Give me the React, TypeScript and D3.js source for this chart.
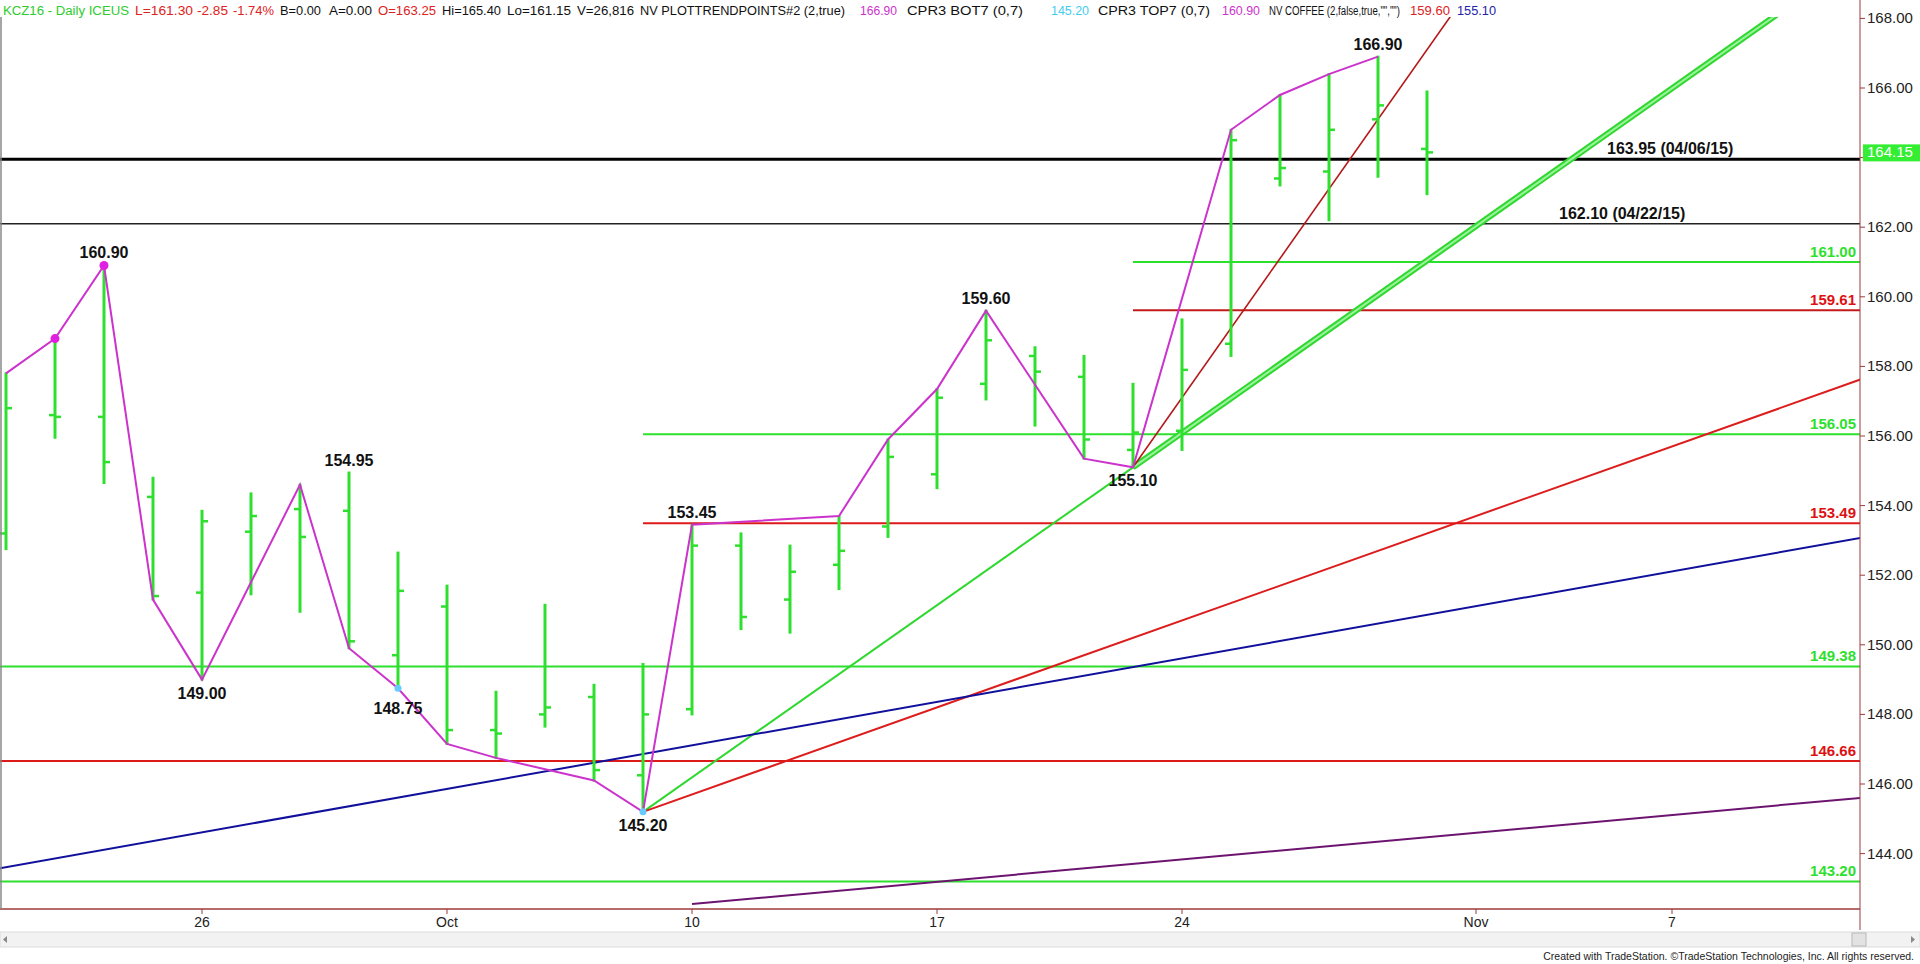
import React from 'react';
import * as d3 from 'd3';

// daily OHLC bars, KCZ16 (Sep 20 - Oct 31)
const barDates = [
  'Sep 20', 'Sep 21', 'Sep 22', 'Sep 23', 'Sep 26', 'Sep 27', 'Sep 28', 'Sep 29', 'Sep 30',
  'Oct 3', 'Oct 4', 'Oct 5', 'Oct 6', 'Oct 7', 'Oct 10', 'Oct 11', 'Oct 12', 'Oct 13', 'Oct 14',
  'Oct 17', 'Oct 18', 'Oct 19', 'Oct 20', 'Oct 21', 'Oct 24', 'Oct 25', 'Oct 26', 'Oct 27', 'Oct 28', 'Oct 31',
];
const opens = [
  153.2, 156.6, 156.55, 154.25, 151.5, 153.25, 153.9, 153.85, 149.7,
  151.1, 147.55, 148.0, 148.5, 146.25, 148.15, 152.85, 151.3, 152.3, 153.4,
  154.9, 157.5, 158.3, 157.7, 155.6, 156.15, 158.65, 163.4, 163.6, 165.1, 164.25,
];
const highs = [
  157.8, 158.8, 160.9, 154.8, 153.85, 154.35, 154.6, 154.95, 152.65,
  151.7, 148.65, 151.15, 148.85, 149.45, 153.45, 153.2, 152.85, 153.7, 155.9,
  157.35, 159.6, 158.55, 158.3, 157.5, 159.35, 164.8, 165.8, 166.4, 166.9, 165.9,
];
const lows = [
  152.75, 155.95, 154.65, 151.3, 149.0, 151.45, 150.95, 149.9, 148.75,
  147.15, 146.75, 147.65, 146.1, 145.2, 148.0, 150.45, 150.35, 151.6, 153.1,
  154.5, 157.05, 156.3, 155.35, 155.1, 155.6, 158.3, 163.2, 162.2, 163.45, 162.95,
];
const closes = [
  156.8, 156.55, 155.25, 151.4, 153.55, 153.7, 153.1, 150.1, 151.55,
  147.55, 147.45, 148.2, 146.4, 148.0, 152.85, 150.8, 152.1, 152.7, 155.4,
  157.1, 158.75, 157.85, 155.9, 156.1, 157.9, 164.5, 163.7, 164.8, 165.5, 164.15,
];
const lastPrice = 164.15;

// x-axis labels (trading-day index)
const dateTickIdx = [4, 9, 14, 19, 24, 30, 34];
const dateTickLabels = ['26', 'Oct', '10', '17', '24', 'Nov', '7'];

// price axis
const priceTicks = [144, 146, 148, 150, 152, 154, 156, 158, 160, 162, 164, 166, 168];

// horizontal levels
const levelValues = [163.95, 162.1, 161.0, 159.61, 156.05, 153.49, 149.38, 146.66, 143.2];
const levelStartIdx = [-1, -1, 23, 23, 13, 13, -1, -1, -1];
const levelLabels = ['163.95 (04/06/15)', '162.10 (04/22/15)', '161.00', '159.61', '156.05', '153.49', '149.38', '146.66', '143.20'];

// zigzag (trend points) path
const zigIdx = [0, 1, 2, 3, 4, 6, 7, 8, 9, 10, 12, 13, 14, 17, 18, 19, 20, 22, 23, 25, 26, 27, 28];
const zigVal = [157.8, 158.8, 160.9, 151.3, 149.0, 154.6, 149.9, 148.75, 147.15, 146.75, 146.1, 145.2, 153.45, 153.7, 155.9, 157.35, 159.6, 155.35, 155.1, 164.8, 165.8, 166.4, 166.9];

// swing labels
const swingIdx = [2, 4, 7, 8, 13, 14, 20, 23, 28];
const swingVal = [160.9, 149.0, 154.95, 148.75, 145.2, 153.45, 159.6, 155.1, 166.9];
const swingSide = ['above', 'below', 'above', 'below', 'below', 'above', 'above', 'below', 'above'];

// dots
const topDotIdx = [1, 2];
const topDotVal = [158.8, 160.9];
const botDotIdx = [8, 13];
const botDotVal = [148.75, 145.2];

// trend lines: start point, slope per bar, end index
const trendStartIdx = [13, 23, 23, 13, -0.2, 14];
const trendStartVal = [145.2, 155.1, 155.1, 145.2, 143.56, 142.55];
const trendSlope = [0.99, 0.99, 2.0, 0.5, 0.25, 0.128];
const trendEndIdx = [23, 40, 40, 40, 40, 40];
const trendStyles = [
  { stroke: '#2fd82f', width: 2 },
  { stroke: '#2fd82f', width: 6, inner: '#9cf29c' },
  { stroke: '#b41818', width: 1.6 },
  { stroke: '#dd1c1c', width: 2 },
  { stroke: '#10109c', width: 2 },
  { stroke: '#6c1470', width: 2 },
];

const header = [
  { t: 'KCZ16 - Daily  ICEUS', c: '#2ecc2e', x: 3, w: 126 },
  { t: 'L=161.30', c: '#dd2222', x: 135, w: 58 },
  { t: '-2.85', c: '#dd2222', x: 197, w: 31 },
  { t: '-1.74%', c: '#dd2222', x: 233, w: 41 },
  { t: 'B=0.00', c: '#111', x: 280, w: 41 },
  { t: 'A=0.00', c: '#111', x: 329, w: 43 },
  { t: 'O=163.25', c: '#dd2222', x: 378, w: 58 },
  { t: 'Hi=165.40', c: '#111', x: 442, w: 59 },
  { t: 'Lo=161.15', c: '#111', x: 507, w: 64 },
  { t: 'V=26,816', c: '#111', x: 577, w: 57 },
  { t: 'NV PLOTTRENDPOINTS#2 (2,true)', c: '#111', x: 640, w: 205 },
  { t: '166.90', c: '#cc33cc', x: 860, w: 37 },
  { t: 'CPR3 BOT7 (0,7)', c: '#111', x: 907, w: 116 },
  { t: '145.20', c: '#44ccee', x: 1051, w: 38 },
  { t: 'CPR3 TOP7 (0,7)', c: '#111', x: 1098, w: 112 },
  { t: '160.90', c: '#cc33cc', x: 1222, w: 38 },
  { t: 'NV COFFEE (2,false,true,"","")', c: '#111', x: 1269, w: 131 },
  { t: '159.60', c: '#dd2222', x: 1410, w: 40 },
  { t: '155.10', c: '#2222aa', x: 1457, w: 39 },
];

const W = 1920;
const H = 964;
const plotRight = 1860;
const plotTop = 17;
const plotBottom = 909;
const FONT = 'Liberation Sans, Arial, sans-serif';
const GREEN = '#2ee02e';
const AXIS = '#9c3a3a';

const levelStyles = [
  { stroke: '#000', width: 3, color: '#111' },
  { stroke: '#222', width: 1.5, color: '#111' },
  { stroke: GREEN, width: 2, color: GREEN },
  { stroke: '#c41a1a', width: 2, color: '#dd1111' },
  { stroke: GREEN, width: 2, color: GREEN },
  { stroke: '#dd1a1a', width: 2, color: '#dd1111' },
  { stroke: GREEN, width: 2, color: GREEN },
  { stroke: '#dd1a1a', width: 2, color: '#dd1111' },
  { stroke: GREEN, width: 2, color: GREEN },
];
const blackLabelX = [1607, 1559];

export default function App() {
  const x = d3.scaleLinear().domain([0, 34]).range([6, 6 + 34 * 49]);
  const y = d3.scaleLinear().domain([144, 168]).range([853.6, 18.4]);

  const zig = d3.line<number>()
    .x((_, i) => x(zigIdx[i]))
    .y((d) => y(d));

  const tick = 6;

  return (
    <svg width={W} height={H} style={{ position: 'fixed', left: 0, top: 0, background: '#fff' }} fontFamily={FONT}>
      <defs>
        <clipPath id="plot">
          <rect x={0} y={plotTop} width={plotRight} height={plotBottom - plotTop} />
        </clipPath>
      </defs>
      <rect x={0} y={0} width={W} height={H} fill="#fff" />

      {/* header */}
      {header.map((h, i) => (
        <text key={i} x={h.x} y={15} fontSize={12} fill={h.c} textLength={h.w} lengthAdjust="spacingAndGlyphs">{h.t}</text>
      ))}

      <g clipPath="url(#plot)">
        {/* horizontal levels */}
        {levelValues.map((v, i) => (
          <line key={i} x1={levelStartIdx[i] < 0 ? 0 : x(levelStartIdx[i])} x2={plotRight} y1={y(v)} y2={y(v)}
            stroke={levelStyles[i].stroke} strokeWidth={levelStyles[i].width} />
        ))}

        {/* trend lines */}
        {trendStartIdx.map((s, i) => {
          const e = trendEndIdx[i];
          const v2 = trendStartVal[i] + trendSlope[i] * (e - s);
          const st = trendStyles[i];
          return (
            <g key={i}>
              <line x1={x(s)} y1={y(trendStartVal[i])} x2={x(e)} y2={y(v2)} stroke={st.stroke} strokeWidth={st.width} />
              {st.inner && <line x1={x(s)} y1={y(trendStartVal[i])} x2={x(e)} y2={y(v2)} stroke={st.inner} strokeWidth={2} />}
            </g>
          );
        })}

        {/* OHLC bars */}
        {barDates.map((d, i) => (
          <g key={d}>
            <line x1={x(i)} x2={x(i)} y1={y(highs[i]) - 1} y2={y(lows[i]) + 1} stroke={GREEN} strokeWidth={3} />
            <line x1={x(i) - tick} x2={x(i)} y1={y(opens[i])} y2={y(opens[i])} stroke={GREEN} strokeWidth={2.5} />
            <line x1={x(i)} x2={x(i) + tick} y1={y(closes[i])} y2={y(closes[i])} stroke={GREEN} strokeWidth={2.5} />
          </g>
        ))}

        {/* zigzag */}
        <path d={zig(zigVal) || ''} fill="none" stroke="#cc33cc" strokeWidth={2} />

        {topDotIdx.map((d, i) => (
          <circle key={'t' + i} cx={x(d)} cy={y(topDotVal[i])} r={4.5} fill="#e020e0" />
        ))}
        {botDotIdx.map((d, i) => (
          <circle key={'b' + i} cx={x(d)} cy={y(botDotVal[i])} r={3.5} fill="#66ccff" />
        ))}
      </g>

      {/* swing labels */}
      {swingIdx.map((d, i) => (
        <text key={i} x={x(d)} y={swingSide[i] === 'above' ? y(swingVal[i]) - 7 : y(swingVal[i]) + (d === 8 ? 26 : 19)}
          textAnchor="middle" fontSize={16} fontWeight="bold" fill="#111">
          {swingVal[i].toFixed(2)}
        </text>
      ))}

      {/* level labels */}
      {levelValues.map((v, i) => (
        i < 2 ? (
          <text key={i} x={blackLabelX[i]} y={y(v) - 5} fontSize={16} fontWeight="bold" fill={levelStyles[i].color}>{levelLabels[i]}</text>
        ) : (
          <text key={i} x={plotRight - 4} y={y(v) - 5} textAnchor="end" fontSize={15} fontWeight="bold" fill={levelStyles[i].color}>{levelLabels[i]}</text>
        )
      ))}

      {/* right price axis */}
      <line x1={plotRight} x2={plotRight} y1={0} y2={930} stroke={AXIS} strokeWidth={1} />
      {priceTicks.map((p) => (
        <g key={p}>
          <line x1={plotRight} x2={plotRight + 5} y1={y(p)} y2={y(p)} stroke={AXIS} />
          {Math.abs(y(p) - y(lastPrice)) > 14 && (
            <text x={plotRight + 7} y={y(p) + 5} fontSize={15} fill="#222">{p.toFixed(2)}</text>
          )}
        </g>
      ))}
      <rect x={plotRight + 3} y={y(lastPrice) - 8} width={W - plotRight - 3} height={17} fill="#33ee33" />
      <text x={plotRight + 7} y={y(lastPrice) + 5} fontSize={15} fill="#fff">{lastPrice.toFixed(2)}</text>

      {/* bottom date axis */}
      <line x1={0} x2={plotRight} y1={plotBottom} y2={plotBottom} stroke={AXIS} strokeWidth={1.5} />
      <line x1={1} x2={1} y1={plotTop} y2={plotBottom} stroke="#888" strokeWidth={1.5} />
      {dateTickIdx.map((d, i) => (
        <g key={d}>
          <line x1={x(d)} x2={x(d)} y1={plotBottom} y2={plotBottom + 5} stroke={AXIS} />
          <text x={x(d)} y={plotBottom + 18} textAnchor="middle" fontSize={14} fill="#222">{dateTickLabels[i]}</text>
        </g>
      ))}

      {/* scrollbar */}
      <rect x={0} y={932} width={W} height={15} fill="#f2f2f2" stroke="#dcdcdc" />
      <rect x={1852} y={933} width={14} height={13} fill="#e2e2e2" stroke="#b8b8b8" />
      <path d="M7 936 L3 939.5 L7 943 Z" fill="#888" />
      <path d="M1911 936 L1915 939.5 L1911 943 Z" fill="#888" />

      <text x={1914} y={960} textAnchor="end" fontSize={10.5} fill="#222">
        Created with TradeStation. ©TradeStation Technologies, Inc. All rights reserved.
      </text>
    </svg>
  );
}
